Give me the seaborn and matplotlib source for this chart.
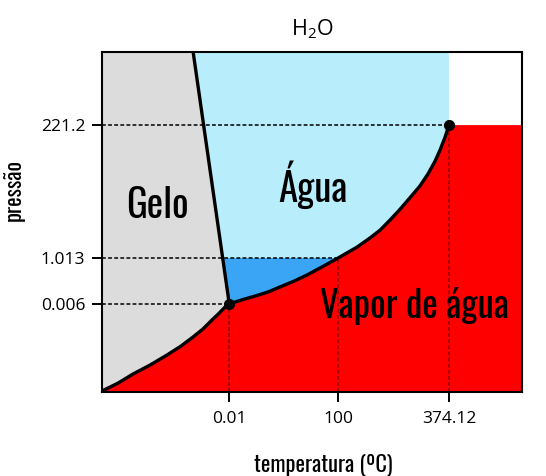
import numpy as np
import pandas as pd
import matplotlib
matplotlib.use('Agg')
import matplotlib.pyplot as plt
import seaborn as sns

# Phase diagram of water (schematic units, 0-100 on both axes)

# sublimation curve (gelo / vapor)
sublim_t = [0.0, 3.8, 7.4, 11.4, 15.5, 18.8, 21.7, 24.0, 26.2, 27.9, 29.3, 30.3]
sublim_p = [0.3, 2.6, 5.3, 7.9, 10.9, 13.5, 16.2, 18.5, 21.2, 23.2, 25.0, 25.9]

# vaporization curve (agua / vapor), from triple point to critical point
vapor_t = [30.3, 33.3, 36.4, 39.5, 42.4, 45.7, 48.8, 52.4, 56.2, 60.7, 63.8,
           66.2, 68.6, 71.0, 73.3, 75.7, 77.6, 79.3, 80.5, 81.7, 82.6]
vapor_p = [25.9, 27.1, 28.2, 29.4, 30.9, 32.6, 34.4, 36.8, 39.4, 42.6, 45.3,
           47.6, 50.6, 53.8, 57.1, 60.6, 64.1, 67.9, 71.2, 75.0, 78.5]
boil_idx = 8  # the 100 C / 1.013 point on the vapor curve

# fusion line (gelo / agua)
fusion_t = [21.7, 30.3]
fusion_p = [100.0, 25.9]

# ticks
temp_pos = [30.3, 56.2, 82.6]
temp_labels = ['0.01', '100', '374.12']
pres_pos = [25.9, 39.4, 78.5]
pres_labels = ['0.006', '1.013', '221.2']

# colours
c_gelo = '#dcdcdc'
c_agua = '#b8edfb'
c_agua_dark = '#3aa5f4'
c_vapor = '#ff0000'

sns.set_style('ticks')
plt.rcParams['font.family'] = ['Open Sans', 'DejaVu Sans']
plt.rcParams['mathtext.default'] = 'regular'
for k in ['text.color', 'axes.labelcolor', 'xtick.color', 'ytick.color']:
    plt.rcParams[k] = 'black'
narrow = ['Oswald', 'Anton', 'DejaVu Sans']

fig = plt.figure(figsize=(5.46, 4.76), dpi=100)
ax = fig.add_axes([102 / 546, 84 / 476, 420 / 546, 340 / 476])
ax.set_xlim(0, 100)
ax.set_ylim(0, 100)

triple = (vapor_t[0], vapor_p[0])
crit = (vapor_t[-1], vapor_p[-1])
boil = (vapor_t[boil_idx], vapor_p[boil_idx])

# --- regions ---
# gelo
gx = [0, 0, fusion_t[0]] + [fusion_t[1]] + sublim_t[::-1]
gy = [0, 100, 100] + [fusion_p[1]] + sublim_p[::-1]
ax.fill(gx, gy, color=c_gelo, lw=0, zorder=1)

# agua (light)
lx = [fusion_t[0], crit[0], crit[0]] + vapor_t[::-1] + [fusion_t[0]]
ly = [100, 100, crit[1]] + vapor_p[::-1] + [100]
ax.fill(lx, ly, color=c_agua, lw=0, zorder=1)

# agua below 1 atm (dark blue)
fus_x_1atm = np.interp(boil[1], fusion_p[::-1], fusion_t[::-1])
dx = vapor_t[:boil_idx + 1] + [fus_x_1atm]
dy = vapor_p[:boil_idx + 1] + [boil[1]]
ax.fill(dx, dy, color=c_agua_dark, lw=0, zorder=1)

# vapor
vx = sublim_t + vapor_t[1:] + [100, 100, 0]
vy = sublim_p + vapor_p[1:] + [crit[1], 0, 0]
ax.fill(vx, vy, color=c_vapor, lw=0, zorder=1)

# --- dashed guide lines ---
dash = (0, (2.5, 1.5))
for t, p in [triple, boil, crit]:
    ax.plot([0, t], [p, p], color='black', lw=1.1, ls=dash, zorder=2)
    ax.plot([t, t], [0, p], color='black', alpha=0.45, lw=1.1, ls=dash, zorder=2)

# --- curves ---
for cx, cy in [(sublim_t, sublim_p), (vapor_t, vapor_p), (fusion_t, fusion_p)]:
    sns.lineplot(x=cx, y=cy, sort=False, estimator=None, color='black', lw=2.4,
                 ax=ax, zorder=3, solid_joinstyle='round', solid_capstyle='round')
pts = pd.DataFrame({'t': [triple[0], crit[0]], 'p': [triple[1], crit[1]]})
sns.scatterplot(data=pts, x='t', y='p', color='black', s=55, edgecolor='black', ax=ax, zorder=4)

# --- region labels ---
lab_kw = dict(fontfamily=narrow, fontweight='bold', ha='center', va='baseline', zorder=5)
ax.text(13.1, 51.2, 'Gelo', fontsize=28, **lab_kw)
ax.text(50.2, 55.9, 'Água', fontsize=28, **lab_kw)
ax.text(74.3, 21.8, 'Vapor de água', fontsize=26.5, **lab_kw)

# --- axes ---
ax.set_xticks(temp_pos, temp_labels)
ax.set_yticks(pres_pos, pres_labels)
ax.tick_params(direction='out', length=7, width=1.4, color='black', labelsize=12.5, pad=5)
ax.tick_params(axis='x', pad=7)
for s in ax.spines.values():
    s.set_visible(True)
    s.set_linewidth(1.5)
    s.set_color('black')
    s.set_zorder(6)

ax.set_xlabel('temperatura (ºC)', fontfamily=narrow, fontweight='bold', fontsize=16)
ax.xaxis.set_label_coords(0.526, -0.18)
ax.set_ylabel('pressão', fontfamily=narrow, fontweight='bold', fontsize=16)
ax.yaxis.set_label_coords(-0.183, 0.594)
ax.set_title('H$_2$O', fontsize=15.5, pad=12)

fig.savefig('out.png', dpi=100)
